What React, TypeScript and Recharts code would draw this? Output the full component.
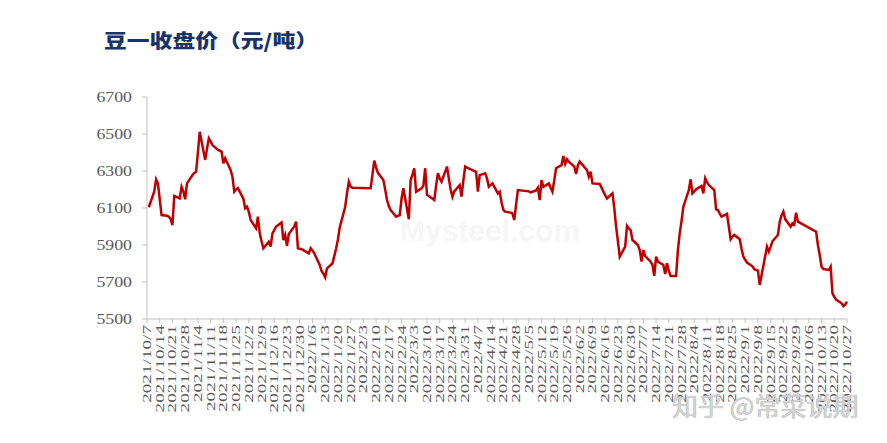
import React from 'react';
import { LineChart, Line, XAxis, YAxis } from 'recharts';

const dates: string[] = [
  '2021/10/8','2021/10/11','2021/10/12','2021/10/13','2021/10/15','2021/10/18','2021/10/19','2021/10/20','2021/10/21','2021/10/22',
  '2021/10/25','2021/10/26','2021/10/27','2021/10/28','2021/10/29','2021/11/1','2021/11/2','2021/11/3','2021/11/4','2021/11/5',
  '2021/11/8','2021/11/9','2021/11/10','2021/11/11','2021/11/12','2021/11/15','2021/11/16','2021/11/17','2021/11/18','2021/11/19',
  '2021/11/22','2021/11/23','2021/11/24','2021/11/25','2021/11/26','2021/11/29','2021/11/30','2021/12/1','2021/12/2','2021/12/3',
  '2021/12/6','2021/12/7','2021/12/8','2021/12/9','2021/12/10','2021/12/13','2021/12/14','2021/12/15','2021/12/16','2021/12/17',
  '2021/12/20','2021/12/21','2021/12/22','2021/12/23','2021/12/24','2021/12/27','2021/12/28','2021/12/29','2021/12/30','2021/12/31',
  '2022/1/4','2022/1/5','2022/1/6','2022/1/7','2022/1/10','2022/1/11','2022/1/12','2022/1/13','2022/1/14','2022/1/17',
  '2022/1/18','2022/1/19','2022/1/20','2022/1/21','2022/1/24','2022/1/25','2022/1/26','2022/1/27','2022/1/28','2022/2/7',
  '2022/2/8','2022/2/9','2022/2/10','2022/2/11','2022/2/14','2022/2/15','2022/2/16','2022/2/17','2022/2/18','2022/2/21',
  '2022/2/22','2022/2/23','2022/2/24','2022/2/25','2022/2/28','2022/3/1','2022/3/2','2022/3/3','2022/3/4','2022/3/7',
  '2022/3/8','2022/3/9','2022/3/10','2022/3/11','2022/3/14','2022/3/15','2022/3/16','2022/3/17','2022/3/18','2022/3/21',
  '2022/3/22','2022/3/23','2022/3/24','2022/3/25','2022/3/28','2022/3/29','2022/3/30','2022/3/31','2022/4/1','2022/4/6',
  '2022/4/7','2022/4/8','2022/4/11','2022/4/12','2022/4/13','2022/4/14','2022/4/15','2022/4/18','2022/4/19','2022/4/20',
  '2022/4/21','2022/4/22','2022/4/25','2022/4/26','2022/4/27','2022/4/28','2022/4/29','2022/5/5','2022/5/6','2022/5/9',
  '2022/5/10','2022/5/11','2022/5/12','2022/5/13','2022/5/16','2022/5/17','2022/5/18','2022/5/19','2022/5/20','2022/5/23',
  '2022/5/24','2022/5/25','2022/5/26','2022/5/27','2022/5/30','2022/5/31','2022/6/1','2022/6/2','2022/6/6','2022/6/7',
  '2022/6/8','2022/6/9','2022/6/10','2022/6/13','2022/6/14','2022/6/15','2022/6/16','2022/6/17','2022/6/20','2022/6/21',
  '2022/6/22','2022/6/23','2022/6/24','2022/6/27','2022/6/28','2022/6/29','2022/6/30','2022/7/1','2022/7/4','2022/7/5',
  '2022/7/6','2022/7/7','2022/7/8','2022/7/11','2022/7/12','2022/7/13','2022/7/14','2022/7/15','2022/7/18','2022/7/19',
  '2022/7/20','2022/7/21','2022/7/22','2022/7/25','2022/7/26','2022/7/27','2022/7/28','2022/7/29','2022/8/1','2022/8/2',
  '2022/8/3','2022/8/4','2022/8/5','2022/8/8','2022/8/9','2022/8/10','2022/8/11','2022/8/12','2022/8/15','2022/8/16',
  '2022/8/17','2022/8/18','2022/8/19','2022/8/22','2022/8/23','2022/8/24','2022/8/25','2022/8/26','2022/8/29','2022/8/30',
  '2022/8/31','2022/9/1','2022/9/2','2022/9/5','2022/9/6','2022/9/7','2022/9/8','2022/9/9','2022/9/13','2022/9/14',
  '2022/9/15','2022/9/16','2022/9/19','2022/9/20','2022/9/21','2022/9/22','2022/9/23','2022/9/26','2022/9/27','2022/9/28',
  '2022/9/29','2022/9/30','2022/10/10','2022/10/11','2022/10/12','2022/10/13','2022/10/14','2022/10/17','2022/10/18','2022/10/19',
  '2022/10/20','2022/10/21','2022/10/24','2022/10/25','2022/10/26','2022/10/27',
];

const prices: number[] = [
  6104,6190,6255,6233,6062,6058,6053,6040,6008,6165,
  6152,6215,6190,6147,6233,6278,6290,6296,6400,6512,
  6360,6420,6477,6460,6440,6414,6410,6405,6342,6369,
  6305,6269,6188,6200,6207,6150,6098,6107,6080,6035,
  5990,6053,5963,5920,5882,5918,5891,5963,5980,6000,
  6021,5927,5954,5895,5960,6000,6026,5882,5880,5878,
  5855,5882,5870,5855,5792,5760,5745,5725,5774,5800,
  5840,5880,5930,5995,6107,6180,6242,6215,6210,6207,
  6280,6356,6320,6290,6251,6200,6143,6110,6089,6053,
  6058,6062,6150,6207,6039,6251,6280,6315,6188,6207,
  6220,6315,6170,6165,6143,6220,6288,6260,6242,6324,
  6260,6200,6161,6190,6224,6161,6250,6324,6318,6296,
  6188,6278,6288,6260,6215,6225,6233,6179,6188,6130,
  6090,6080,6075,6071,6035,6120,6197,6190,6185,6195,
  6210,6143,6251,6215,6233,6210,6188,6250,6315,6332,
  6381,6338,6363,6350,6324,6284,6330,6351,6305,6269,
  6296,6233,6232,6230,6210,6188,6170,6152,6179,6100,
  6000,5920,5837,5891,6003,5990,5981,5927,5900,5873,
  5810,5873,5840,5810,5792,5733,5837,5810,5792,5743,
  5801,5760,5733,5733,5873,5963,6030,6107,6197,6255,
  6179,6190,6201,6219,6179,6261,6240,6224,6197,6093,
  6089,6070,6053,6068,6000,5931,5945,5954,5931,5880,
  5837,5820,5805,5785,5769,5765,5761,5684,5891,5864,
  5890,5920,5954,6026,6060,6080,6040,5999,6017,6010,
  6075,6026,5972,5900,5846,5783,5770,5765,5783,5639,
  5620,5605,5585,5570,5578,5594,
];

const tickLabels: string[] = [
  '2021/10/7','2021/10/14','2021/10/21','2021/10/28','2021/11/4','2021/11/11','2021/11/18','2021/11/25',
  '2021/12/2','2021/12/9','2021/12/16','2021/12/23','2021/12/30','2022/1/6','2022/1/13','2022/1/20',
  '2022/1/27','2022/2/3','2022/2/10','2022/2/17','2022/2/24','2022/3/3','2022/3/10','2022/3/17',
  '2022/3/24','2022/3/31','2022/4/7','2022/4/14','2022/4/21','2022/4/28','2022/5/5','2022/5/12',
  '2022/5/19','2022/5/26','2022/6/2','2022/6/9','2022/6/16','2022/6/23','2022/6/30','2022/7/7',
  '2022/7/14','2022/7/21','2022/7/28','2022/8/4','2022/8/11','2022/8/18','2022/8/25','2022/9/1',
  '2022/9/8','2022/9/15','2022/9/22','2022/9/29','2022/10/6','2022/10/13','2022/10/20','2022/10/27',
];

const yTicks: number[] = [5500, 5700, 5900, 6100, 6300, 6500, 6700];

const toTs = (s: string) => {
  const [y, m, d] = s.split('/').map(Number);
  return Date.UTC(y, m - 1, d);
};

const data = dates.map((d, i) => ({ t: toTs(d), v: prices[i] }));
const xTicks = tickLabels.map(toTs);
const labelByTs = new Map<number, string>(xTicks.map((t, i) => [t, tickLabels[i]]));

const SERIF = "'Times New Roman', 'Liberation Serif', serif";

const XTick = (props: any) => {
  const { x, y, payload } = props;
  return (
    <g transform={`translate(${x},${y})`}>
      <text
        transform="rotate(-90) scale(1.6,1)"
        textAnchor="end"
        x={0}
        y={4}
        fill="#595959"
        fontSize={12}
        fontFamily={SERIF}
      >
        {labelByTs.get(payload.value)}
      </text>
    </g>
  );
};

const YTick = (props: any) => {
  const { x, y, payload } = props;
  return (
    <g transform={`translate(${x},${y})`}>
      <text
        transform="scale(1.15,1)"
        textAnchor="end"
        dy="0.35em"
        fill="#595959"
        fontSize={15.5}
        fontFamily={SERIF}
      >
        {payload.value}
      </text>
    </g>
  );
};

export default function App() {
  return (
    <div style={{ position: 'absolute', left: 0, top: 0, width: 887, height: 443, background: '#fff' }}>
      <div
        style={{
          position: 'absolute', left: 400, top: 214, fontSize: 30, fontWeight: 700,
          color: '#f6f6f6', fontFamily: "'Liberation Sans', Arial, sans-serif", whiteSpace: 'nowrap',
        }}
      >
        Mysteel.com
      </div>
      <div style={{ position: 'absolute', left: 0, top: 0 }}>
        <LineChart width={887} height={443} data={data} margin={{ top: 97, right: 40, bottom: 0, left: 0 }}>
          <XAxis
            dataKey="t"
            type="number"
            domain={[xTicks[0], xTicks[xTicks.length - 1]]}
            ticks={xTicks}
            interval={0}
            height={124}
            tickSize={4}
            tickMargin={2}
            axisLine={{ stroke: '#bfbfbf' }}
            tickLine={{ stroke: '#bfbfbf' }}
            tick={<XTick />}
          />
          <YAxis
            domain={[5500, 6700]}
            ticks={yTicks}
            interval={0}
            width={147}
            tickSize={5}
            tickMargin={10}
            axisLine={{ stroke: '#bfbfbf' }}
            tickLine={{ stroke: '#bfbfbf' }}
            tick={<YTick />}
          />
          <Line
            type="linear"
            dataKey="v"
            stroke="#c00000"
            strokeWidth={2.5}
            dot={false}
            isAnimationActive={false}
          />
        </LineChart>
      </div>
      <div
        style={{
          position: 'absolute', left: 104, top: 29, fontSize: 19, fontWeight: 900, lineHeight: '22px',
          color: '#17336a', fontFamily: "'Noto Sans CJK SC', sans-serif", whiteSpace: 'nowrap',
          transform: 'scaleX(1.2)', transformOrigin: 'left center',
        }}
      >
        豆一收盘价（元/吨）
      </div>
      <div
        style={{
          position: 'absolute', left: 672, top: 390, fontSize: 26, lineHeight: '30px',
          color: '#d4d4d4', fontFamily: "'Noto Sans CJK SC', sans-serif", whiteSpace: 'nowrap',
          textShadow: '0 0 1px #8a8a8a',
        }}
      >
        知乎 @常菜说期
      </div>
    </div>
  );
}
